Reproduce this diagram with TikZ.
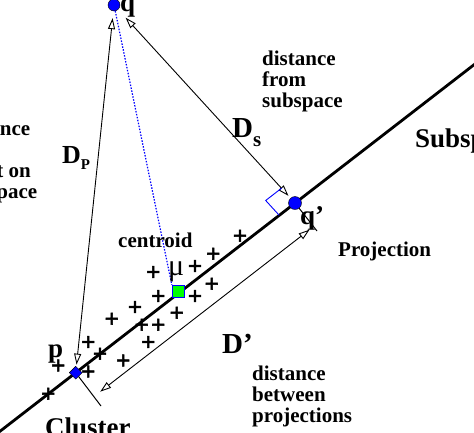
\documentclass[tikz,border=0pt]{standalone}
\usepackage{fontspec}
\setmainfont{Liberation Serif}
\newfontfamily\plusfont[FakeBold=2]{Liberation Serif Bold}
\usetikzlibrary{arrows.meta,calc,shapes.geometric}
\tikzset{
  lbl/.style={font=\fontsize{21}{21}\selectfont\bfseries, inner sep=0pt, align=left},
  biglbl/.style={font=\fontsize{27}{27}\selectfont\bfseries, inner sep=0pt},
  dlbl/.style={font=\fontsize{29}{29}\selectfont\bfseries, inner sep=0pt},
  ptlbl/.style={font=\fontsize{27}{27}\selectfont\bfseries, inner sep=0pt},
  dot/.style={circle, draw=black, fill=blue, minimum size=12pt, inner sep=0pt},
  plus/.style={font=\plusfont\fontsize{25}{25}\selectfont, inner sep=0pt},
  dim/.style={{Triangle[open,length=11pt,width=7pt]}-{Triangle[open,length=11pt,width=7pt]}, line width=0.9pt},
}
\begin{document}
\begin{tikzpicture}[x=1pt,y=-1pt]
\useasboundingbox (0,0) rectangle (474,432);
\clip (0,0) rectangle (474,432);

% the subspace
\draw[line width=2.8pt] (-10,439) -- (484,57);

% points
\node[dot] (q) at (114,5) {};
\node[dot, minimum size=13pt] (qp) at (295,203) {};
\node[diamond, draw=black, fill=blue, minimum size=13pt, inner sep=0pt] (p) at (75.7,372.7) {};
\node[draw=blue, fill=green, minimum size=12pt, inner sep=0pt] (mu) at (178,291) {};

% cluster members
\foreach \x/\y [count=\i] in {240/237, 213.3/255, 195/267.3, 153.3/273.3, 211.7/285,
  158.3/297.3, 195/297.3, 135/308.3, 176.7/314, 111.7/320, 141.7/326, 158.3/326,
  148.3/343.3, 88.3/343.3, 100/355, 123.3/361.7, 58.3/366.7, 88.3/372.7, 48.3/395}
  \node[plus] (pl\i) at (\x,\y) {+};

% distances
\draw[dim, shorten <=7pt, shorten >=2pt] (q) -- (p);
\draw[dim, shorten <=11pt, shorten >=3pt] (q) -- (qp);
\draw[blue, line width=1.2pt, dash pattern=on 1.5pt off 1.5pt] (q) -- (mu.north west);

\coordinate (pext) at (101,406);
\coordinate (qext) at (317,231);
\draw[line width=1pt] (p) -- (pext);
\draw[line width=1pt] (qp) -- (qext);
\draw[dim, shorten <=8pt, shorten >=5pt] ($(p)!30pt!(pext)$) -- ($(qp)!30pt!(qext)$);

% right angle
\coordinate (ra) at ($(qp)!20pt!(q)$);
\coordinate (rb) at ($(qp)!20pt!(p)$);
\draw[blue, line width=0.9pt] (ra) -- ($(ra)+(rb)-(qp)$) -- (rb);

% labels
\node[ptlbl, anchor=base west] (qlbl) at (120,11) {q};
\node[ptlbl, anchor=base west] (qplbl) at (300,224) {q’};
\node[ptlbl, anchor=base west] (plbl) at (48,357) {p};
\node[font=\fontsize{30}{30}\selectfont, inner sep=0pt, anchor=base west] (mulbl) at (168,275) {μ};

\node[dlbl, anchor=base west] (ds) at (232,137) {D\raisebox{-9pt}{\fontsize{21}{21}\selectfont s}};
\node[dlbl, font=\fontsize{26}{26}\selectfont\bfseries, anchor=base west] (dp) at (62,163) {D\raisebox{-6pt}{\fontsize{15}{15}\selectfont P}};
\node[dlbl, anchor=base west] (dd) at (222,353) {D’};

\node[lbl, anchor=north west] (dsub) at (262,51) {distance\\from\\subspace};
\node[lbl, anchor=north west] (dproj) at (252,366) {distance\\between\\projections};
\node[lbl, anchor=north west] (dpt) at (-43.5,121) {distance\\[21pt]point on\\subspace};
\node[lbl, anchor=base west] (cent) at (118,247) {centroid};
\node[lbl, anchor=base west] (proj) at (338,256) {Projection};

\node[biglbl, anchor=base west] (subsp) at (415,147) {Subspace};
\node[biglbl, anchor=base west] (clus) at (45,436) {Cluster};
\end{tikzpicture}
\end{document}
